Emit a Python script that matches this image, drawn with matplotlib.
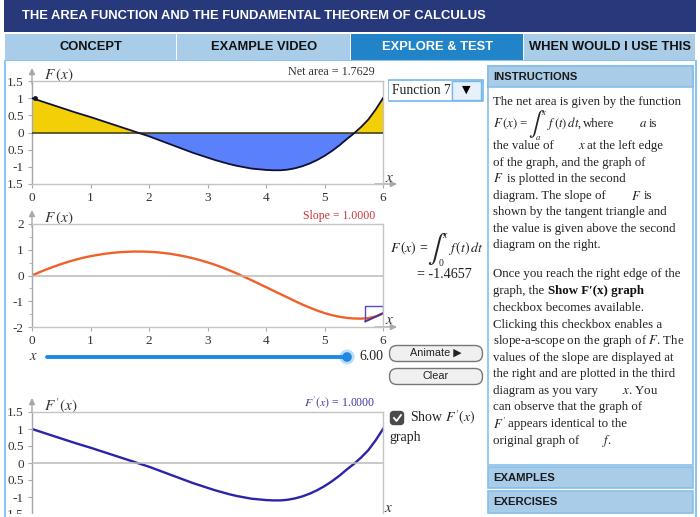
import matplotlib
matplotlib.use("Agg")
import matplotlib.pyplot as plt
from matplotlib.patches import Rectangle, FancyBboxPatch, Circle

plt.rcParams["font.family"] = ["Liberation Serif", "DejaVu Serif"]
plt.rcParams["mathtext.fontset"] = "stix"

W, H = 700, 517

# values
x_vals = [0, 0.125, 0.25, 0.375, 0.5, 0.625, 0.75, 0.875, 1, 1.125, 1.25, 1.375, 1.5, 1.625, 1.75, 1.875,
          2, 2.125, 2.25, 2.375, 2.5, 2.625, 2.75, 2.875, 3, 3.125, 3.25, 3.375, 3.5, 3.625, 3.75, 3.875,
          4, 4.125, 4.25, 4.375, 4.5, 4.625, 4.75, 4.875, 5, 5.125, 5.25, 5.375, 5.5, 5.625, 5.75, 5.875, 6]
f_vals = [1.0, 0.93, 0.86, 0.79, 0.72, 0.65, 0.58, 0.515, 0.45, 0.38, 0.31, 0.24, 0.17, 0.10, 0.03, -0.04,
          -0.11, -0.19, -0.27, -0.35, -0.43, -0.51, -0.59, -0.66, -0.73, -0.80, -0.86, -0.92, -0.97, -1.01, -1.05, -1.07,
          -1.09, -1.10, -1.10, -1.08, -1.04, -0.98, -0.90, -0.80, -0.68, -0.54, -0.38, -0.20, -0.03, 0.16, 0.38, 0.67, 1.0]
F_vals = [0, 0.125, 0.24, 0.345, 0.445, 0.535, 0.615, 0.69, 0.75, 0.80, 0.845, 0.88, 0.905, 0.92, 0.93, 0.93,
          0.92, 0.905, 0.875, 0.84, 0.79, 0.735, 0.67, 0.595, 0.51, 0.42, 0.315, 0.2, 0.08, -0.05, -0.18, -0.315,
          -0.45, -0.59, -0.725, -0.86, -1.0, -1.13, -1.25, -1.36, -1.46, -1.54, -1.6, -1.645, -1.67, -1.675, -1.655, -1.59, -1.47]
tri_x = [5.7, 5.7, 6, 6]
tri_y = [-1.78, -1.18, -1.18, -1.47]
hyp_x = [5.7, 6]
hyp_y = [-1.78, -1.47]

x_ticks = [0, 1, 2, 3, 4, 5, 6]
y1_ticks = [1.5, 1, 0.5, 0, -0.5, -1, -1.5]
y1_labels = ["1.5", "1", "0.5", "0", "0.5", "-1", "1.5"]
y2_ticks = [2, 1, 0, -1, -2]
y2_labels = ["2", "1", "0", "-1", "-2"]

tabs = ["CONCEPT", "EXAMPLE VIDEO", "EXPLORE & TEST", "WHEN WOULD I USE THIS"]
tab_edges = [5, 177, 351, 524, 696]

instr_text = [(493, 102, "The net area is given by the function"),
              (583, 124, "where"), (639, 124, "$a$"), (649, 124, "is"),
              (493, 146, "the value of"), (578, 146, "$x$"), (587, 146, "at the left edge"),
              (493, 163, "of the graph, and the graph of"),
              (493, 179, "$F$"), (507, 179, "is plotted in the second"),
              (493, 196, "diagram. The slope of"), (631, 196, "$F$"), (644, 196, "is"),
              (493, 212, "shown by the tangent triangle and"),
              (493, 229, "the value is given above the second"),
              (493, 245, "diagram on the right."),
              (493, 274, "Once you reach the right edge of the"),
              (493, 291, "graph, the"),
              (493, 308, "checkbox becomes available."),
              (493, 325, "Clicking this checkbox enables a"),
              (493, 341, "slope-a-scope on the graph of $F$. The"),
              (493, 358, "values of the slope are displayed at"),
              (493, 374, "the right and are plotted in the third"),
              (493, 391, "diagram as you vary"), (622, 391, "$x$. You"),
              (493, 407, "can observe that the graph of"),
              (493, 424, "$F\\,'$"), (508, 424, "appears identical to the"),
              (493, 441, "original graph of"), (602, 441, "$f$.")]

fig = plt.figure(figsize=(W / 100, H / 100), dpi=100)


def px_axes(left, top, right, bottom):
    return fig.add_axes([left / W, 1 - bottom / H, (right - left) / W, (bottom - top) / H])


# page furniture, in pixels
ui = fig.add_axes([0, 0, 1, 1])
ui.set_xlim(0, W)
ui.set_ylim(H, 0)
ui.axis("off")


def box(x0, y0, x1, y1, fc, ec="none", lw=0):
    ui.add_patch(Rectangle((x0, y0), x1 - x0, y1 - y0, fc=fc, ec=ec, lw=lw))


def integral(x, y, size, xf, sup, low, low_xy, sup_xy, body, small):
    ui.text(x, y, "$F\\,(x)$ =", fontsize=small, va="center", color="#222222")
    ui.text(xf, y, "∫", family="STIXGeneral", fontsize=size, ha="center", va="center", color="#222222")
    ui.text(sup_xy[0], sup_xy[1], sup, fontsize=small - 3, ha="center", va="center", color="#222222")
    ui.text(low_xy[0], low_xy[1], low, fontsize=small - 3, ha="center", va="center", color="#222222")
    ui.text(body[0], y, body[1], fontsize=small, va="center", color="#222222")


box(4, 0, 696, 32, "#27397b")
ui.text(22, 16, "THE AREA FUNCTION AND THE FUNDAMENTAL THEOREM OF CALCULUS", color="white",
        family="Liberation Sans", weight="bold", fontsize=9.4, va="center")
for i, tab in enumerate(tabs):
    active = i == 2
    box(tab_edges[i], 34, tab_edges[i + 1] - 1, 60, "#2184c8" if active else "#a9cce8")
    ui.text((tab_edges[i] + tab_edges[i + 1]) / 2, 47, tab, family="Liberation Sans", weight="bold",
            fontsize=9.3, ha="center", va="center", color="white" if active else "#111111")
box(4, 60, 6, 517, "#8cc4f0")
box(695, 60, 697, 517, "#8cc4f0")
box(4, 60, 696, 61, "#8cc4f0")

# instructions panel
box(488, 66, 693, 465, "white", "#86bfea", 1.2)
box(488, 66, 693, 87, "#a9cce8", "#86bfea", 1.2)
box(488, 467, 693, 488, "#a9cce8", "#86bfea", 1.2)
box(488, 491, 693, 513, "#a9cce8", "#86bfea", 1.2)
for label, yy in [("INSTRUCTIONS", 77), ("EXAMPLES", 478), ("EXERCISES", 502)]:
    ui.text(493, yy, label, family="Liberation Sans", weight="bold", fontsize=8.1, va="center", color="#1a1a1a")
for xx, yy, line in instr_text:
    ui.text(xx, yy, line, fontsize=9.3, va="center", color="#222222")
ui.text(548, 291, "Show F′(x) graph", fontsize=9.3, weight="bold", va="center", color="#111111")
integral(493, 124, 17, 534, "$x$", "$a$", (538, 138), (544, 113), (547, "$f\\,(t)\\,dt$,"), 9.3)

# dropdown
box(389, 80, 483, 101, "#e6f1fb", "#7ab8e8", 1.2)
box(389, 81, 451, 100, "white")
box(452, 81, 481, 100, "#e6f1fb", "#7ab8e8", 1)
ui.text(392, 90.5, "Function 7", fontsize=9.8, va="center", color="#222222")
ui.text(466, 90, "▼", family="DejaVu Sans", fontsize=8, ha="center", va="center", color="black")

# integral next to 2nd graph
integral(390, 248, 20, 434, "$x$", "0", (441, 264), (445, 236), (448, "$f\\,(t)\\,dt$"), 10)
ui.text(417, 274, "= -1.4657", fontsize=10.2, va="center", color="#222222")

# slider
ui.text(33, 356, "$x$", fontsize=10.5, ha="center", va="center", color="#333333")
ui.plot([47, 347], [357, 357], color="#1e88e5", lw=2.8, solid_capstyle="round")
ui.add_patch(Circle((347, 357), 7.5, fc="#bcdcf7", ec="none"))
ui.add_patch(Circle((347, 357), 4.8, fc="#1e88e5", ec="none"))
ui.text(359, 356.5, "6.00", fontsize=10, va="center", color="#222222")

# buttons
for y0, label in [(345, "Animate ▶"), (368, "Clear")]:
    ui.add_patch(FancyBboxPatch((390, y0 + 1), 92, 15, boxstyle="round,pad=0.5,rounding_size=7.5",
                                fc="#f0f0f0", ec="#777777", lw=1))
    ui.text(436, y0 + 8, label, family=["Liberation Sans", "DejaVu Sans"], fontsize=7.8, ha="center",
            va="center", color="#222222")

# checkbox
ui.add_patch(FancyBboxPatch((391, 412), 12, 12, boxstyle="round,pad=0.5,rounding_size=3", fc="#4a4a4a", ec="#4a4a4a"))
ui.plot([394, 396.5, 401], [418, 421, 415], color="white", lw=1.3)
ui.text(410, 418, "Show $F\\,'(x)$", fontsize=10, va="center", color="#222222")
ui.text(389, 437, "graph", fontsize=10, va="center", color="#222222")


def arrow(x0, y0, x1, y1):
    ui.annotate("", xy=(x1, y1), xytext=(x0, y0),
                arrowprops=dict(arrowstyle="-|>", color="#a8a8a8", lw=1, mutation_scale=9, shrinkA=0, shrinkB=0))


def style_axes(ax, yticks, ylabels, ylim, zero_color="#bbbbbb"):
    ax.set_xlim(0, 6)
    ax.set_ylim(*ylim)
    ax.patch.set_alpha(0)
    ax.set_xticks(x_ticks)
    ax.set_yticks(yticks)
    ax.set_yticklabels(ylabels, fontsize=9.5, color="#333333")
    ax.set_xticklabels([str(t) for t in x_ticks], fontsize=9.5, color="#333333")
    ax.tick_params(colors="#aaaaaa", labelcolor="#333333", length=3, width=0.8, pad=3)
    for s in ax.spines.values():
        s.set_color("#c4c4c4")
        s.set_linewidth(1)
    ax.spines["left"].set_color("#a8a8a8")
    ax.axhline(0, color=zero_color, lw=1.1, zorder=3)


# first graph
ax1 = px_axes(32, 81, 383, 184)
ax1.fill_between(x_vals, f_vals, 0, where=[v >= 0 for v in f_vals], interpolate=True, color="#f2cf07", lw=0)
ax1.fill_between(x_vals, f_vals, 0, where=[v <= 0 for v in f_vals], interpolate=True, color="#5b80fb", lw=0)
ax1.plot(x_vals, f_vals, color="#111133", lw=1.3, zorder=4)
style_axes(ax1, y1_ticks, y1_labels, (-1.5, 1.5), "#333300")
ax1.text(5.86, 1.75, "Net area = 1.7629", fontsize=8.7, ha="right", va="center", color="#333333", clip_on=False)
ax1.plot([0.05], [1], marker="o", ms=2.5, color="#111133", zorder=5)

# second graph
ax2 = px_axes(32, 224, 383, 327)
ax2.plot(x_vals, F_vals, color="#f0612a", lw=1.7)
ax2.plot(tri_x, tri_y, color="#5a48c0", lw=1)
ax2.plot(hyp_x, hyp_y, color="#55309a", lw=1.5)
style_axes(ax2, y2_ticks, y2_labels, (-2, 2))
ax2.set_yticks([1.5, 0.5, -0.5, -1.5], minor=True)
ax2.tick_params(which="minor", colors="#aaaaaa", length=2)
ax2.text(5.86, 2.33, "Slope = 1.0000", fontsize=8.5, ha="right", va="center", color="#c8343c", clip_on=False)

# third graph
ax3 = px_axes(32, 412, 383, 514)
ax3.plot(x_vals, f_vals, color="#2a24a8", lw=1.7)
style_axes(ax3, y1_ticks, y1_labels, (-1.5, 1.5))
ax3.set_xticks([])
ax3.spines["bottom"].set_visible(False)
ax3.text(5.86, 1.78, "$F\\,'(x)$ = 1.0000", fontsize=8.5, ha="right", va="center", color="#3a35a8", clip_on=False)

# axis captions and arrows
for ytop, yax, ycap in [(68, 184, 75), (210, 327, 218)]:
    arrow(32, yax - 100, 32, ytop)
    ui.text(44, ycap, "$F\\,(x)$", fontsize=11, va="center", color="#333333")
    arrow(375, yax, 397, yax)
    ui.text(390, yax - 6, "$x$", fontsize=11, ha="center", va="center", color="#333333")
arrow(32, 412, 32, 398)
ui.text(44, 406, "$F\\,'(x)$", fontsize=11, va="center", color="#333333")
ui.text(389, 508, "$x$", fontsize=11, ha="center", va="center", color="#333333")

# page ends here, third graph is cut off
top = fig.add_axes([0, 0, 1, 1], zorder=10)
top.set_xlim(0, W)
top.set_ylim(H, 0)
top.axis("off")
top.add_patch(Rectangle((7, 513.5), 478, 4, fc="white", ec="none"))

fig.savefig("out.png", dpi=100)
